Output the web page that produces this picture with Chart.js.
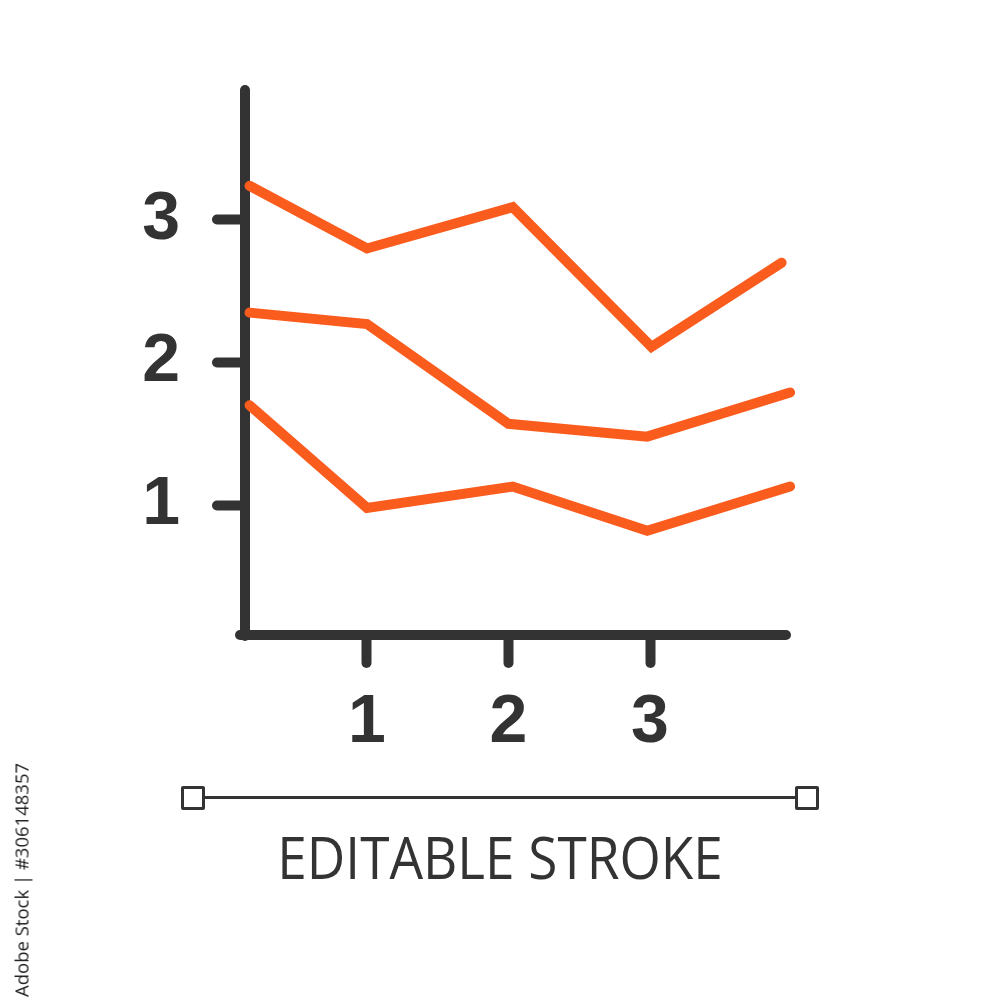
<!DOCTYPE html>
<html lang="en">
<head>
  <meta charset="UTF-8" />
  <title>Editable Stroke Line Chart</title>
  <script src="https://cdn.jsdelivr.net/npm/chart.js"></script>
  <style>
    html, body { margin: 0; padding: 0; background: #fff; }
    body { width: 1000px; height: 1000px; position: relative; overflow: hidden; font-family: 'Open Sans', sans-serif; color: #333; }
    #chart { position: absolute; left: 0; top: 0; }
    .slider-line { position: absolute; left: 200px; top: 796px; width: 600px; height: 3px; background: #333; }
    .handle { position: absolute; top: 786px; width: 18px; height: 18px; border: 3px solid #333; background: #fff; border-radius: 2px; }
    .caption { position: absolute; left: 0; width: 1000px; top: 818px; text-align: center; font-size: 59px; line-height: 76px; transform: scaleX(0.9); }
    .stock-id { position: absolute; left: 21px; top: 880px; transform: translate(-50%, -50%) rotate(-90deg); white-space: nowrap; font-size: 18.5px; color: #222; }
  </style>
</head>
<body>
  <canvas id="chart" width="1000" height="1000"></canvas>
  <div class="slider-line"></div>
  <div class="handle" style="left:181px"></div>
  <div class="handle" style="left:795px"></div>
  <div class="caption">EDITABLE STROKE</div>
  <div class="stock-id">Adobe Stock | #306148357</div>

  <script>
    // values
    const tickValues = [1, 2, 3];
    const tickLabels = ['1', '2', '3'];

    const topX = [0.17, 1, 2.03, 3.01, 3.93];
    const topY = [3.24, 2.80, 3.09, 2.11, 2.70];
    const midX = [0.17, 1, 2.0, 2.98, 3.99];
    const midY = [2.35, 2.27, 1.57, 1.48, 1.79];
    const lowX = [0.17, 1, 2.03, 2.98, 3.99];
    const lowY = [1.70, 0.98, 1.13, 0.82, 1.13];

    const orange = '#fa5c1d';
    const dark = '#333333';

    function points(xs, ys) {
      return xs.map((x, i) => ({ x: x, y: ys[i] }));
    }

    function lineSet(xs, ys) {
      return {
        data: points(xs, ys),
        borderColor: orange,
        borderWidth: 10,
        borderCapStyle: 'round',
        borderJoinStyle: 'miter',
        pointRadius: 0,
        tension: 0,
        clip: false
      };
    }

    // axis lines and tick marks get round ends like the icon
    const roundCaps = {
      id: 'roundCaps',
      beforeDraw(chart) { chart.ctx.save(); chart.ctx.lineCap = 'round'; },
      afterDraw(chart) { chart.ctx.restore(); }
    };

    const digitFont = { family: "'Liberation Sans Narrow', 'Liberation Sans', sans-serif", size: 68, weight: 'bold' };

    function setTicks(scale) {
      scale.ticks = tickValues.map(v => ({ value: v }));
    }

    new Chart(document.getElementById('chart'), {
      type: 'line',
      data: {
        datasets: [lineSet(topX, topY), lineSet(midX, midY), lineSet(lowX, lowY)]
      },
      plugins: [roundCaps],
      options: {
        responsive: false,
        animation: false,
        layout: { padding: { top: 95, right: 215, left: 0, bottom: 0 } },
        plugins: { legend: { display: false }, tooltip: { enabled: false } },
        scales: {
          x: {
            type: 'linear',
            min: 0.138,
            max: 3.954,
            afterBuildTicks: setTicks,
            afterFit: s => { s.height = 365; },
            border: { display: true, color: dark, width: 10 },
            grid: { drawOnChartArea: false, drawTicks: true, tickLength: 28, tickWidth: 10, tickColor: dark },
            ticks: {
              color: dark, padding: 19, font: digitFont, maxRotation: 0,
              callback: v => tickLabels[tickValues.indexOf(v)]
            }
          },
          y: {
            type: 'linear',
            min: 0.088,
            max: 3.877,
            afterBuildTicks: setTicks,
            afterFit: s => { s.width = 245; },
            border: { display: true, color: dark, width: 10 },
            grid: { drawOnChartArea: false, drawTicks: true, tickLength: 28, tickWidth: 10, tickColor: dark },
            ticks: {
              color: dark, padding: 37, font: digitFont,
              callback: v => tickLabels[tickValues.indexOf(v)]
            }
          }
        }
      }
    });
  </script>
</body>
</html>
